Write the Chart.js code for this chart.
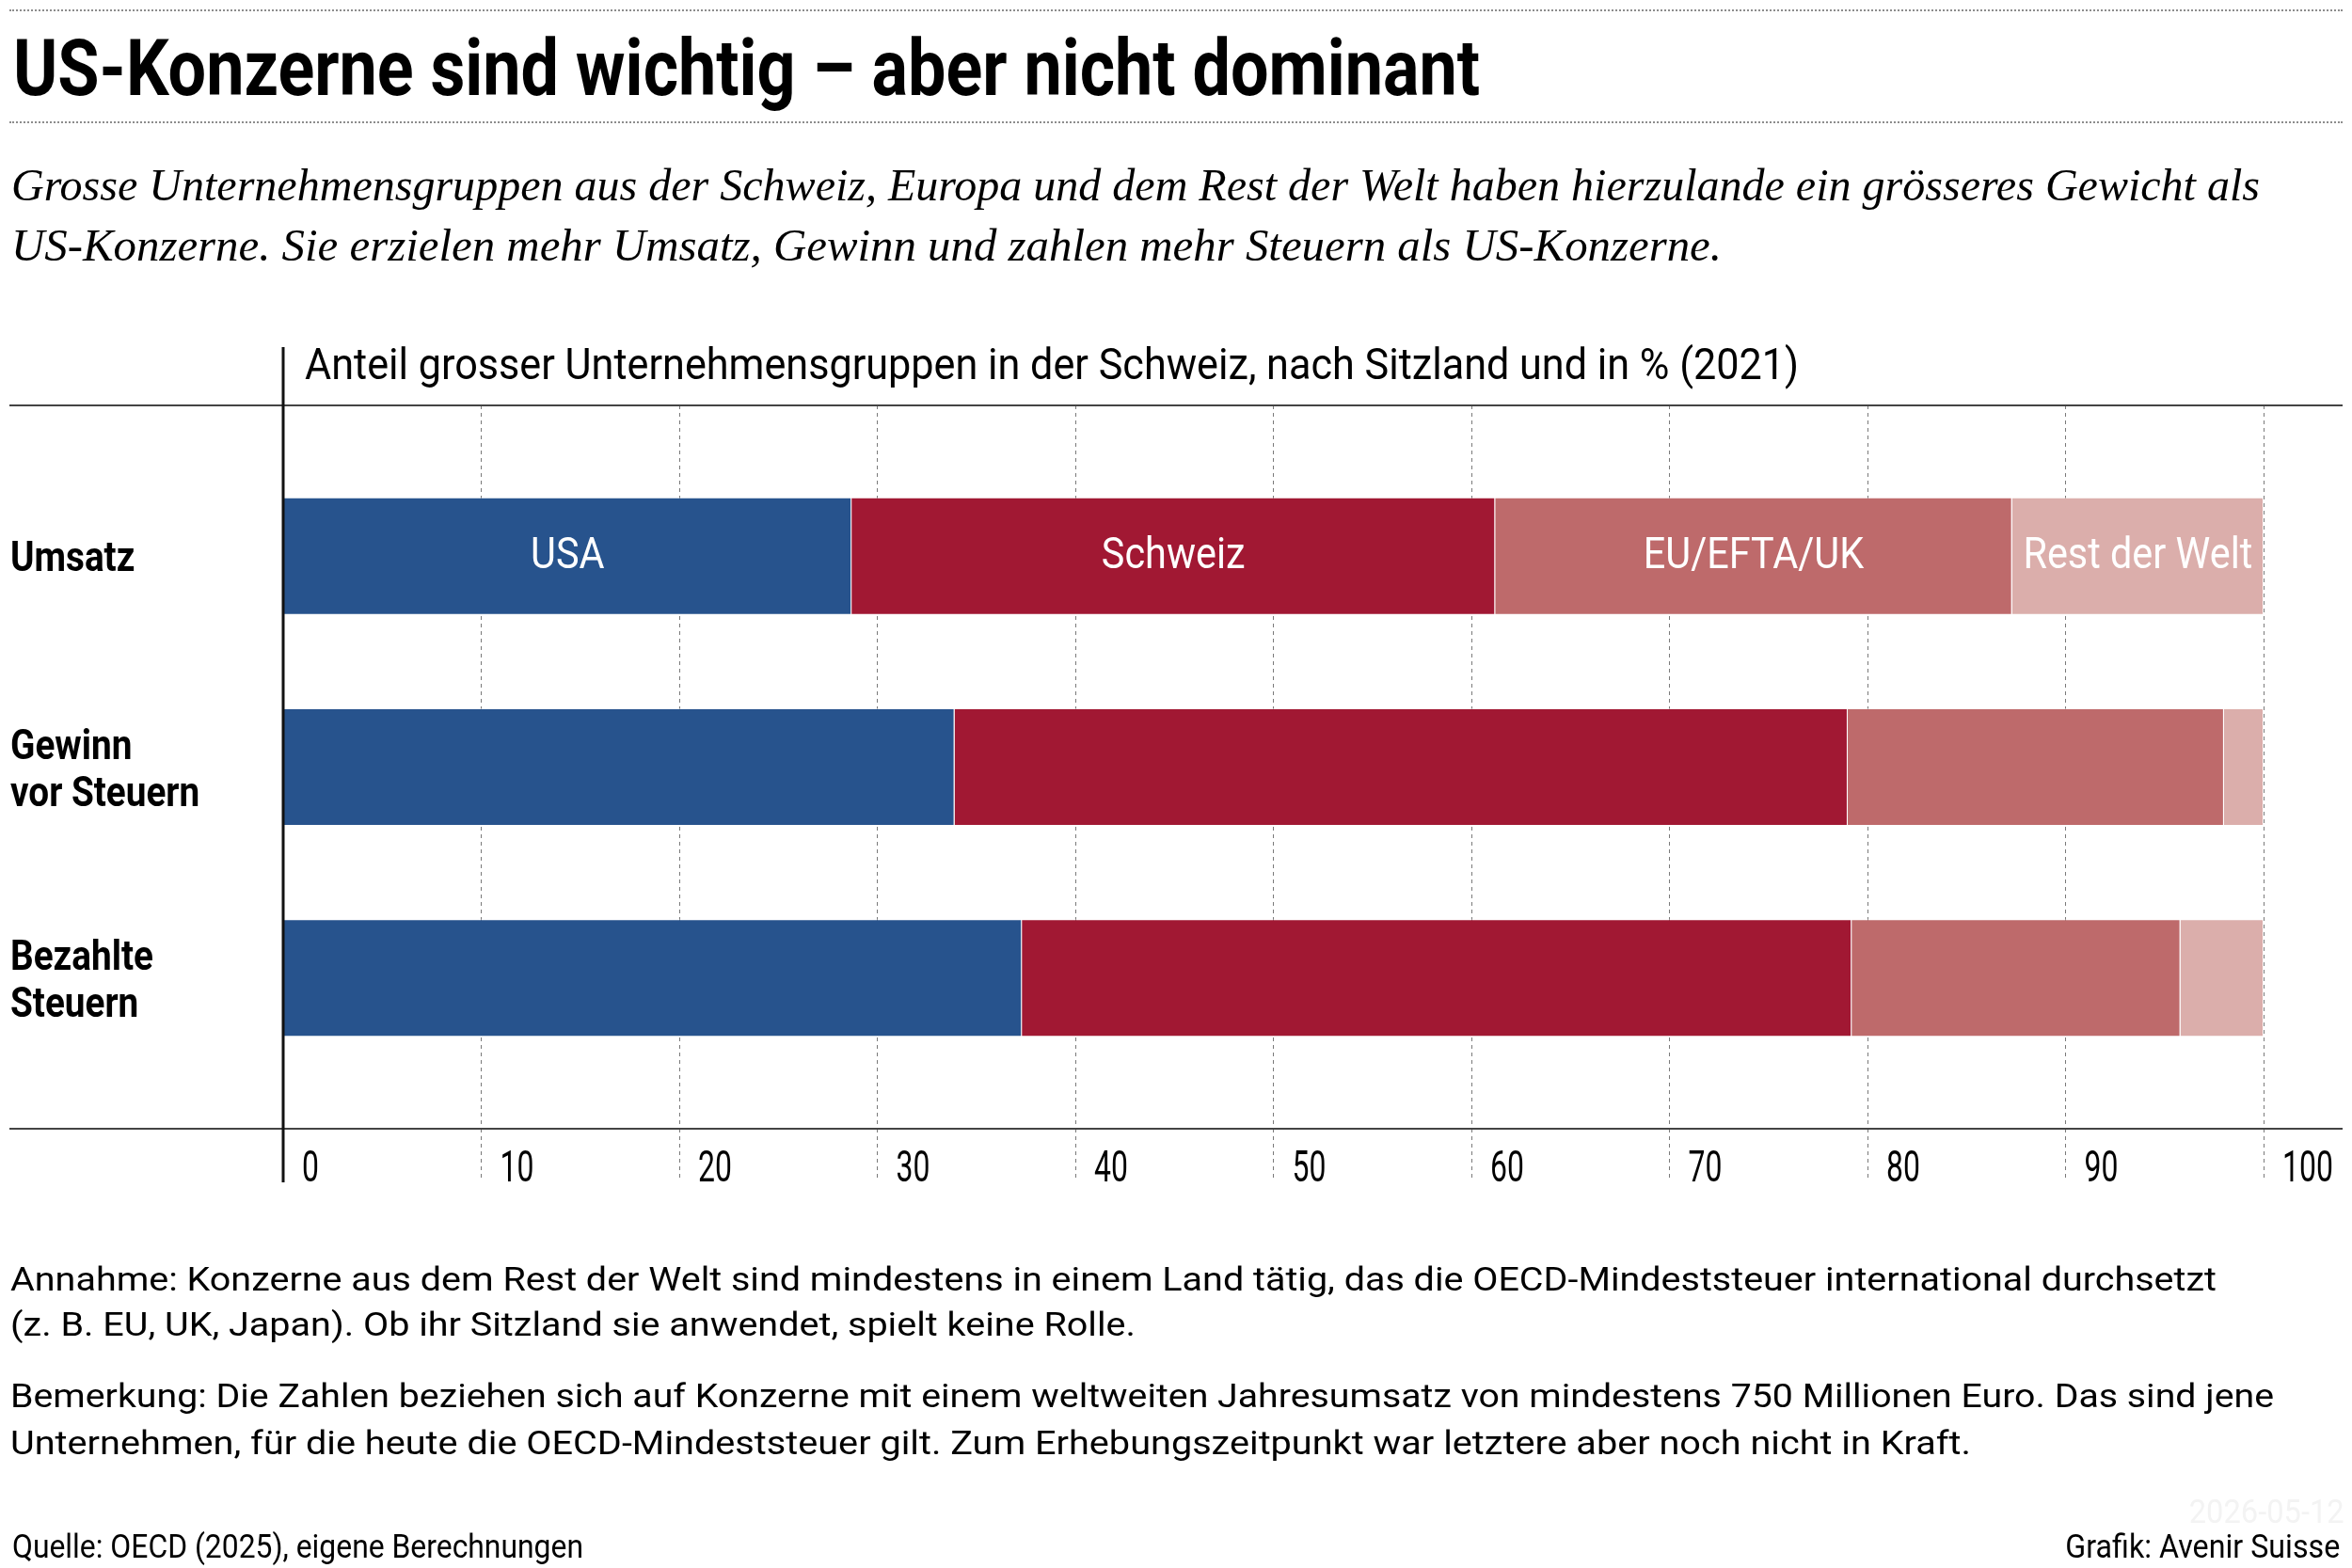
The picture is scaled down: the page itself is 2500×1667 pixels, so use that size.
<!DOCTYPE html>
<html lang="de">
<head>
<meta charset="utf-8">
<title>US-Konzerne sind wichtig – aber nicht dominant</title>
<script src="https://cdn.jsdelivr.net/npm/chart.js@4.4.1/dist/chart.umd.min.js"></script>
<style>
    html, body { margin: 0; padding: 0; background: #fff; }
    #page { position: relative; width: 2500px; height: 1667px; overflow: hidden; background: #fff; }
    #chart-box { position: absolute; left: 0; top: 0; width: 2500px; height: 1667px; }
    .txt {
        position: absolute;
        white-space: nowrap;
        line-height: 1;
        color: #000;
        transform-origin: 0 0;
        font-family: Roboto, 'Liberation Sans', sans-serif;
    }
    .right { transform-origin: 100% 0; }
    .serif { font-family: 'Liberation Serif', 'DejaVu Serif', serif; font-style: italic; }
    .rule { position: absolute; left: 10px; width: 2480px; height: 0; border-top: 2px dotted #8c8c8c; }
</style>
</head>
<body>
<div id="page">
    <div id="chart-box"><canvas id="share-chart"></canvas></div>

    <div class="rule" style="top: 10px;"></div>
    <div class="txt" style="left: 14px; top: 31px; font-size: 84px; font-weight: bold;" data-w="1559">US-Konzerne sind wichtig – aber nicht dominant</div>
    <div class="rule" style="top: 129px;"></div>

    <div class="txt serif" style="left: 12px; top: 172px; font-size: 49px;" data-w="2390">Grosse Unternehmensgruppen aus der Schweiz, Europa und dem Rest der Welt haben hierzulande ein grösseres Gewicht als</div>
    <div class="txt serif" style="left: 12px; top: 236px; font-size: 49px;" data-w="1818">US-Konzerne. Sie erzielen mehr Umsatz, Gewinn und zahlen mehr Steuern als US-Konzerne.</div>

    <div class="txt" style="left: 324px; top: 363px; font-size: 47px;" data-w="1588">Anteil grosser Unternehmensgruppen in der Schweiz, nach Sitzland und in % (2021)</div>

    <div class="txt" style="left: 11px; top: 1343px; font-size: 35px;" data-w="2345">Annahme: Konzerne aus dem Rest der Welt sind mindestens in einem Land tätig, das die OECD-Mindeststeuer international durchsetzt</div>
    <div class="txt" style="left: 11px; top: 1391px; font-size: 35px;" data-w="1196">(z. B. EU, UK, Japan). Ob ihr Sitzland sie anwendet, spielt keine Rolle.</div>
    <div class="txt" style="left: 11px; top: 1467px; font-size: 35px;" data-w="2406">Bemerkung: Die Zahlen beziehen sich auf Konzerne mit einem weltweiten Jahresumsatz von mindestens 750 Millionen Euro. Das sind jene</div>
    <div class="txt" style="left: 11px; top: 1517px; font-size: 35px;" data-w="2084">Unternehmen, für die heute die OECD-Mindeststeuer gilt. Zum Erhebungszeitpunkt war letztere aber noch nicht in Kraft.</div>

    <div class="txt right" style="right: 8px; top: 1590px; font-size: 35px; color: #f3f3f3;" data-w="165">2026-05-12</div>
    <div class="txt" style="left: 13px; top: 1627px; font-size: 35px;" data-w="607">Quelle: OECD (2025), eigene Berechnungen</div>
    <div class="txt right" style="right: 13px; top: 1627px; font-size: 35px;" data-w="292">Grafik: Avenir Suisse</div>
</div>

<script>
const FONT = "Roboto, 'Liberation Sans', sans-serif";

// Anteile in % (2021), gelesen aus der Grafik
const categories = [['Umsatz'], ['Gewinn', 'vor Steuern'], ['Bezahlte', 'Steuern']];
const usa = [28.7, 33.9, 37.3];
const schweiz = [32.5, 45.1, 41.9];
const eu_efta_uk = [26.1, 19.0, 16.6];
const rest_welt = [12.7, 2.0, 4.2];
const x_ticks = [0, 10, 20, 30, 40, 50, 60, 70, 80, 90, 100];

const series = [
    { label: 'USA', values: usa, color: '#27538d' },
    { label: 'Schweiz', values: schweiz, color: '#a11833' },
    { label: 'EU/EFTA/UK', values: eu_efta_uk, color: '#be6a6b' },
    { label: 'Rest der Welt', values: rest_welt, color: '#dbaeab' },
];

// the original uses a condensed DIN face, so canvas text is squeezed a bit
// (key = font size in px)
const squeeze = { '47': 0.68, '45': 0.86, '46': 0.9 };

// squeeze the html text lines to the widths of the original layout
function fit_texts() {
    document.querySelectorAll('[data-w]').forEach(el => {
        let w = el.getBoundingClientRect().width;
        el.style.transform = 'scaleX(' + (el.dataset.w / w) + ')';
    });
}

const condense_plugin = {
    id: 'condense',
    beforeDraw(chart) {
        const ctx = chart.ctx;
        if (ctx.condensed) return;
        const fill = ctx.fillText.bind(ctx);
        ctx.fillText = function (text, x, y) {
            let m = /(\d+)px/.exec(this.font);
            let k = (m && squeeze[m[1]]) || 1;
            this.save();
            this.translate(x, y);
            this.scale(k, 1);
            fill(text, 0, 0);
            this.restore();
        };
        ctx.condensed = true;
    }
};

// horizontal rules above/below the plot and the zero line
const frame_plugin = {
    id: 'frame',
    afterDatasetsDraw(chart) {
        const ctx = chart.ctx;
        const area = chart.chartArea;
        ctx.save();
        ctx.strokeStyle = '#444';
        ctx.lineWidth = 2;
        [area.top, area.bottom].forEach(y => {
            ctx.beginPath();
            ctx.moveTo(10, y);
            ctx.lineTo(2490, y);
            ctx.stroke();
        });
        ctx.strokeStyle = '#111';
        ctx.lineWidth = 3;
        ctx.beginPath();
        ctx.moveTo(area.left, 369);
        ctx.lineTo(area.left, 1257);
        ctx.stroke();
        ctx.restore();
    }
};

// series names written into the first bar
const bar_labels_plugin = {
    id: 'barLabels',
    afterDatasetsDraw(chart) {
        const ctx = chart.ctx;
        ctx.save();
        ctx.fillStyle = '#fff';
        ctx.font = '46px ' + FONT;
        ctx.textAlign = 'center';
        ctx.textBaseline = 'middle';
        chart.data.datasets.forEach((ds, i) => {
            let bar = chart.getDatasetMeta(i).data[0];
            ctx.fillText(ds.label, (bar.x + bar.base) / 2, bar.y + 1);
        });
        ctx.restore();
    }
};

function grid_color(c) {
    return c.tick && c.tick.value === 0 ? 'rgba(0,0,0,0)' : '#7a7a7a';
}

function draw_chart() {
    const ctx = document.getElementById('share-chart');
    new Chart(ctx, {
        type: 'bar',
        data: {
            datasets: series.map(s => ({
                label: s.label,
                data: s.values.map((v, i) => ({ x: v, y: i })),
                backgroundColor: s.color,
                borderColor: 'rgba(255,255,255,0.45)',
                borderWidth: 1,
                barPercentage: 0.557,
                categoryPercentage: 1
            }))
        },
        options: {
            indexAxis: 'y',
            responsive: true,
            maintainAspectRatio: false,
            devicePixelRatio: 1,
            animation: false,
            layout: {
                padding: { top: 431, left: 11, right: 94, bottom: 407 }
            },
            plugins: {
                legend: { display: false },
                tooltip: { enabled: false }
            },
            scales: {
                x: {
                    type: 'linear',
                    position: 'bottom',
                    stacked: true,
                    min: 0,
                    max: 100,
                    afterBuildTicks: s => { s.ticks = x_ticks.map(v => ({ value: v })); },
                    afterFit: s => { s.height = 60; },
                    border: { display: false, dash: [4, 4] },
                    grid: {
                        color: grid_color,
                        lineWidth: 1,
                        drawTicks: true,
                        tickLength: 56,
                        tickColor: grid_color,
                        tickBorderDash: [4, 4]
                    },
                    ticks: {
                        align: 'start',
                        labelOffset: 20,
                        padding: -35,
                        maxRotation: 0,
                        autoSkip: false,
                        color: '#000',
                        font: { family: FONT, size: 47, lineHeight: 1 }
                    }
                },
                y: {
                    type: 'linear',
                    stacked: true,
                    reverse: true,
                    offset: false,
                    min: -0.714,
                    max: 2.714,
                    afterBuildTicks: s => { s.ticks = categories.map((c, i) => ({ value: i })); },
                    afterFit: s => { s.width = 290; },
                    border: { display: false },
                    grid: { display: false, offset: false },
                    ticks: {
                        crossAlign: 'far',
                        labelOffset: 5,
                        color: '#000',
                        callback: v => categories[v],
                        font: { family: FONT, size: 45, weight: 'bold', lineHeight: 1.1 }
                    }
                }
            }
        },
        plugins: [condense_plugin, frame_plugin, bar_labels_plugin]
    });
}

fit_texts();
draw_chart();
</script>
</body>
</html>
